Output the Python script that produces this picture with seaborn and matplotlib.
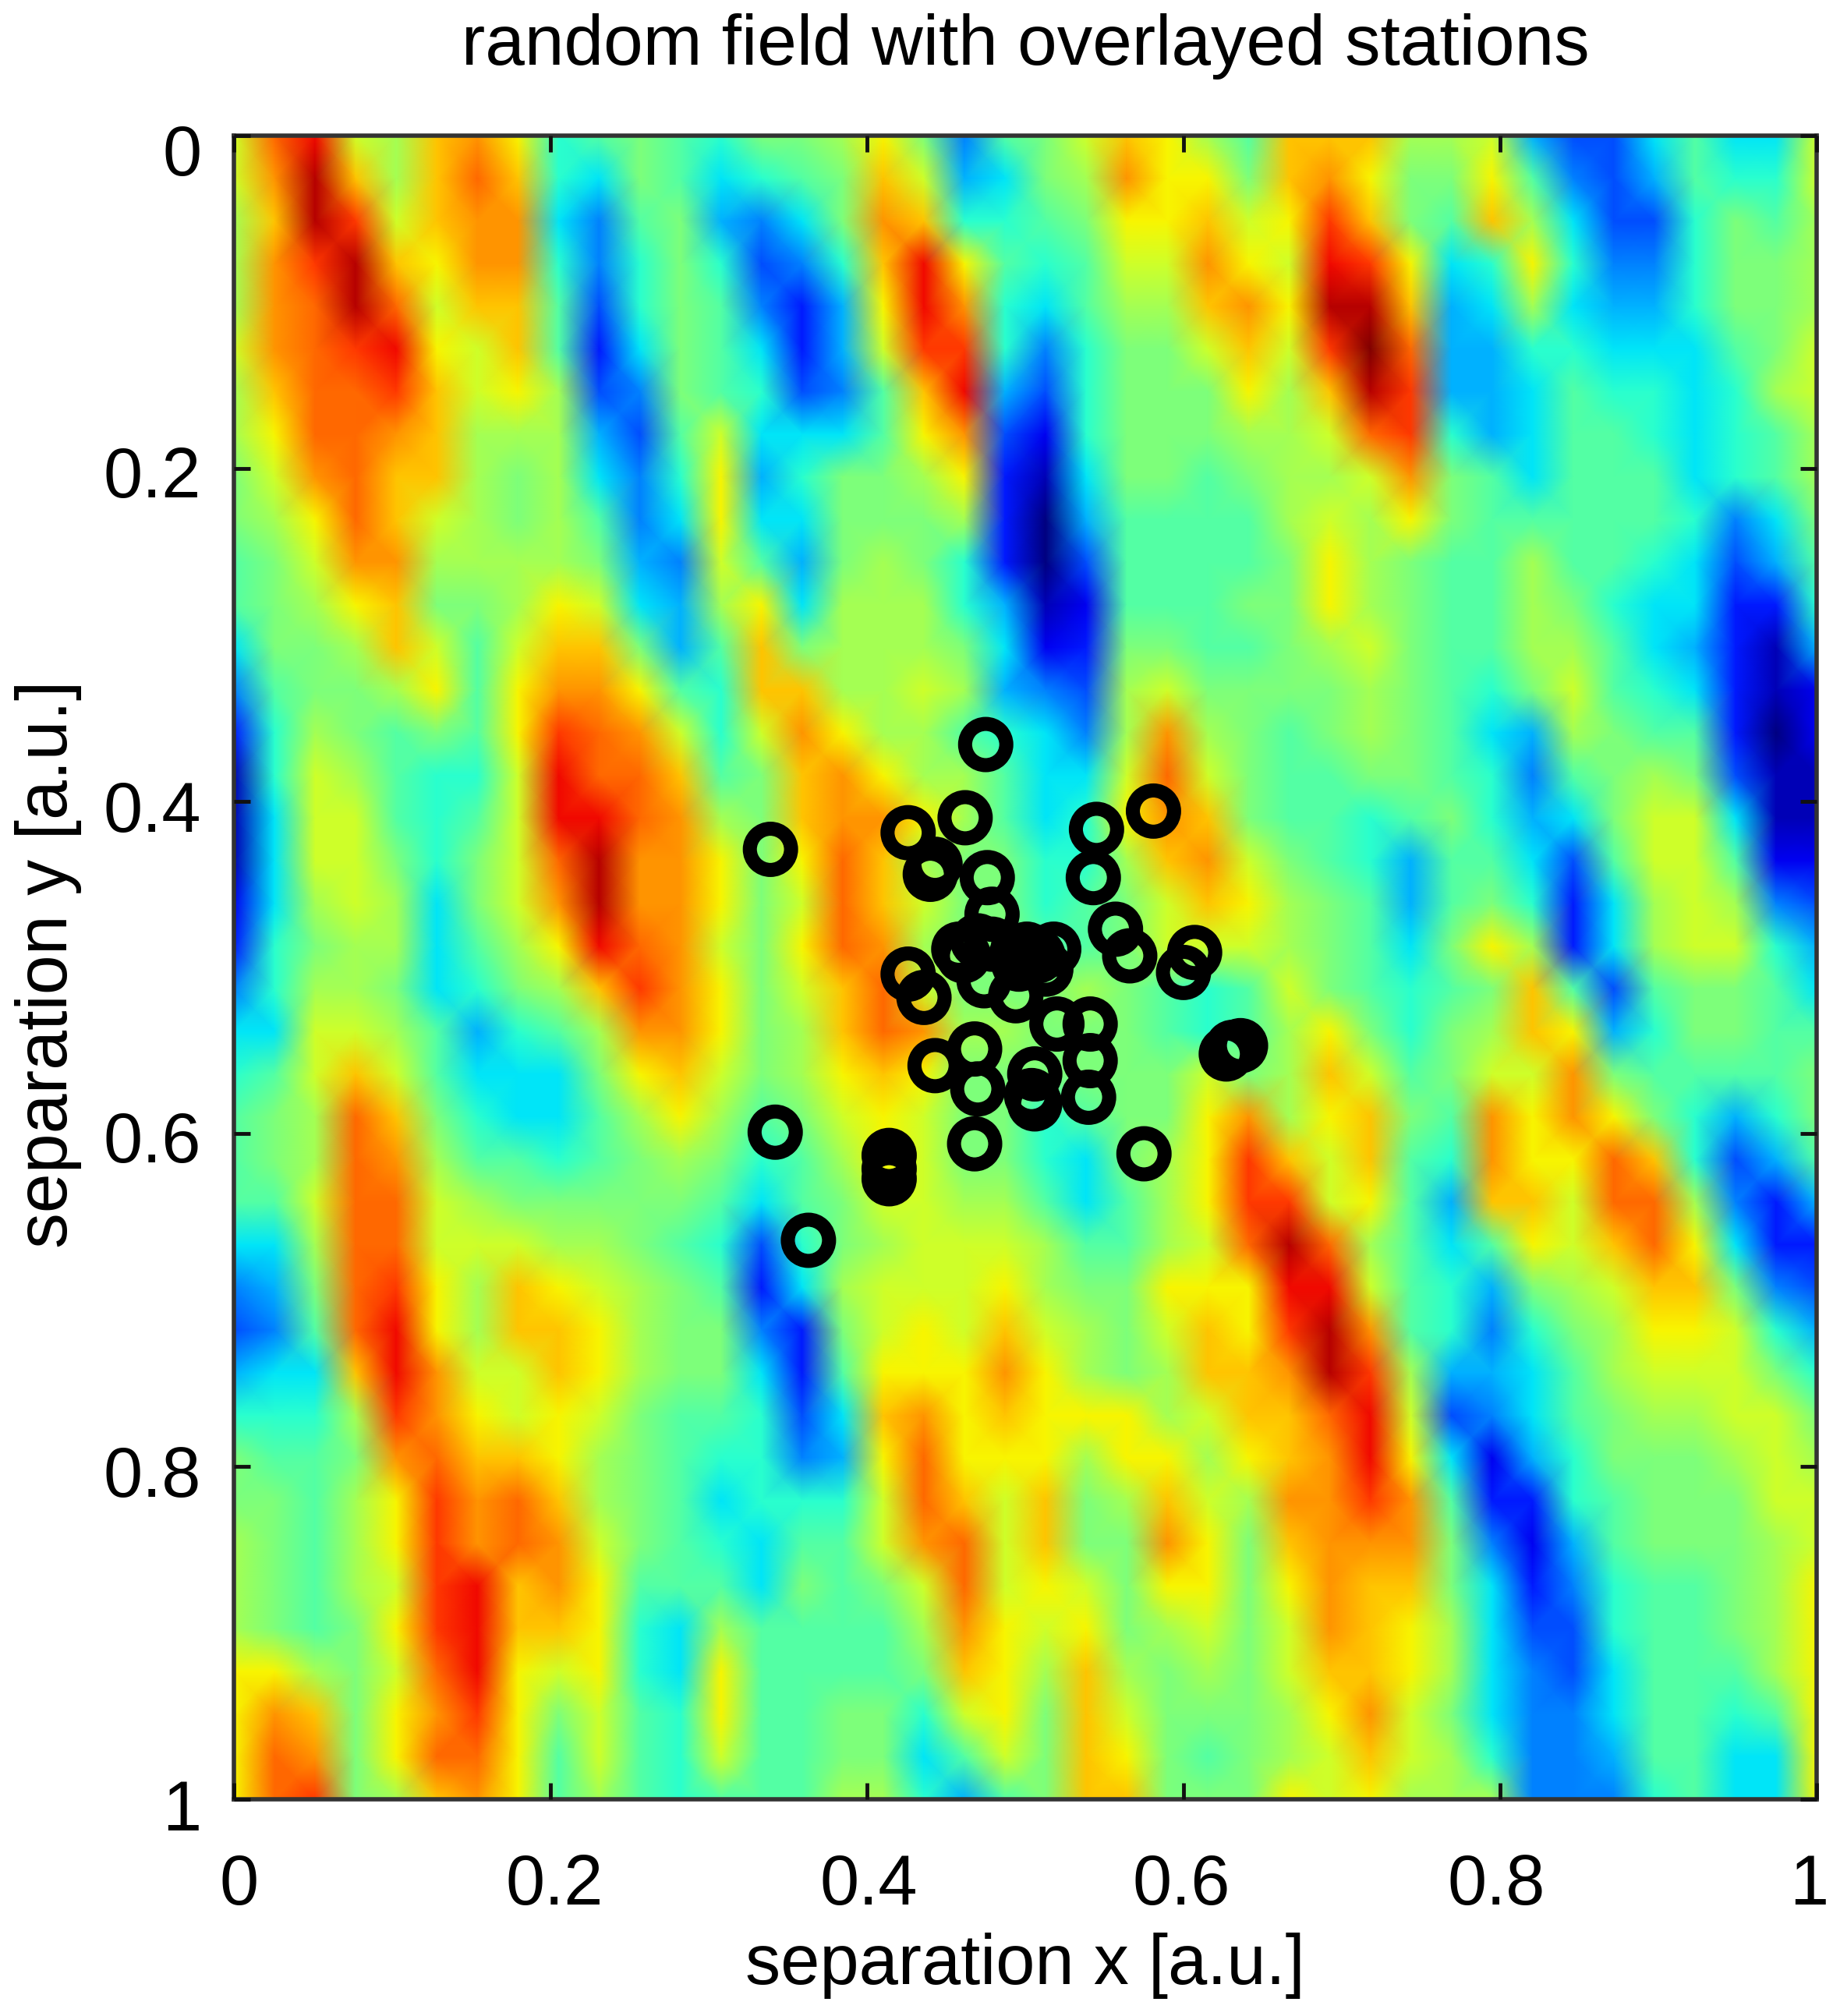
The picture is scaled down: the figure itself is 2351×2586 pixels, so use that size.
import numpy as np
import seaborn as sns
import matplotlib
import matplotlib.pyplot as plt
from matplotlib.transforms import ScaledTranslation
matplotlib.use('Agg')

# field values, on a 0-20 colour scale (40 x 40 cells, four quadrants)
top_left = [
    [12,16,18,12,11,14,15,13,8,9,10,9,8,10,10,11,13,10,5,9],
    [12,15,19,14,11,14,16,14,8,7,10,9,7,8,9,10,14,12,6,7],
    [11,14,19,17,12,14,15,15,7,5,9,10,6,5,7,10,15,14,8,8],
    [11,15,17,19,14,13,15,15,8,5,8,10,8,4,5,8,14,18,13,9],
    [11,15,16,19,16,12,14,14,9,4,8,10,9,5,3,6,13,18,15,8],
    [12,15,16,17,18,13,12,14,9,3,7,10,9,7,3,6,12,17,17,8],
    [11,14,16,16,17,14,12,13,11,4,5,10,9,8,4,5,9,14,18,6],
    [11,13,16,16,15,14,11,11,11,6,4,9,12,7,7,7,9,13,15,4],
    [10,12,15,16,14,14,11,10,11,7,5,8,13,6,8,10,10,11,13,3],
    [10,11,13,16,14,12,11,10,11,9,5,7,13,7,7,10,10,10,11,3],
    [9,10,12,15,15,11,11,11,11,10,6,5,12,9,6,10,11,10,8,3],
    [9,10,11,13,14,10,10,11,13,12,7,6,11,13,7,11,11,11,8,6],
    [7,10,10,11,14,12,9,12,14,14,10,6,9,14,10,11,11,11,10,7],
    [5,9,10,10,11,13,9,13,15,15,13,9,8,14,14,11,11,12,11,6],
    [3,8,11,10,9,10,9,13,17,16,15,12,8,12,15,13,11,11,9,8],
    [1,8,12,11,9,8,8,12,18,16,16,14,9,10,14,15,13,11,11,9],
    [1,7,12,12,9,8,9,12,18,18,16,15,11,10,14,15,15,13,11,9],
    [1,7,12,12,10,8,10,12,16,19,15,15,13,10,13,16,14,11,10,10],
    [2,7,11,12,11,7,10,12,15,19,15,15,13,10,12,16,14,12,10,10],
    [3,8,10,11,11,7,9,11,13,18,16,15,12,10,13,16,15,11,10,10],
]
top_right = [
    [10,12,14,13,11,9,14,14,14,11,11,12,6,4,4,7,9,7,7,12],
    [10,11,15,13,13,10,14,15,13,10,10,13,9,5,4,6,9,8,8,12],
    [9,10,13,13,14,12,13,17,14,10,9,14,11,7,4,4,8,10,9,11],
    [8,9,12,12,15,13,12,18,17,13,7,8,13,8,5,5,8,10,10,11],
    [7,9,11,11,14,15,13,19,19,14,6,7,11,7,6,6,8,10,10,11],
    [5,8,10,10,12,14,12,17,20,16,6,6,8,8,7,7,7,9,10,12],
    [4,8,10,10,10,13,11,14,19,17,6,6,7,9,8,8,7,8,11,12],
    [2,8,10,10,10,11,11,12,16,17,8,6,7,9,9,8,7,8,9,11],
    [1,7,10,10,9,10,11,11,12,15,10,9,7,9,9,9,7,8,9,11],
    [0,6,9,9,9,9,11,12,11,13,10,9,9,9,9,9,8,5,7,10],
    [0,4,9,9,9,9,10,13,11,10,9,9,11,9,9,8,7,4,6,9],
    [1,2,9,9,9,10,10,13,11,10,9,9,11,10,8,7,7,3,3,8],
    [2,3,10,10,9,9,10,11,12,10,9,9,11,11,9,7,6,3,1,6],
    [5,4,11,12,10,10,10,10,11,10,9,8,10,12,9,8,7,3,1,2],
    [7,5,11,15,11,10,9,10,11,10,9,7,6,11,10,9,9,3,0,2],
    [7,7,12,16,12,10,9,9,10,10,9,8,5,9,10,11,10,4,1,1],
    [7,8,13,15,14,10,9,9,8,9,10,8,6,7,10,12,12,7,1,1],
    [8,8,11,14,15,12,10,9,8,6,9,9,7,4,9,12,12,9,2,2],
    [8,9,10,12,14,13,11,10,9,6,9,10,8,3,7,11,12,11,5,4],
    [9,9,10,12,12,12,11,10,9,7,10,13,11,3,7,11,12,12,8,6],
]
bottom_left = [
    [5,8,11,11,10,7,8,10,11,14,17,15,13,10,12,14,16,12,10,10],
    [7,7,12,12,11,9,6,8,9,11,15,15,13,10,11,14,16,15,11,11],
    [8,9,12,14,12,9,7,7,7,10,13,14,12,10,11,13,14,13,10,10],
    [9,10,11,16,14,10,8,7,7,9,11,13,11,9,10,12,13,12,10,10],
    [9,10,11,16,15,11,9,9,8,9,10,11,10,8,9,11,13,12,10,10],
    [9,9,12,16,16,12,11,10,10,10,10,10,9,7,9,10,12,12,11,11],
    [7,7,11,16,16,12,12,12,11,11,10,9,8,4,8,10,11,12,12,12],
    [5,6,10,16,17,13,11,14,13,12,11,10,9,3,7,11,12,12,12,13],
    [4,5,9,16,18,13,11,14,14,13,11,10,10,5,3,10,12,13,12,14],
    [6,7,7,14,18,15,12,12,14,13,11,10,10,7,3,9,13,13,13,15],
    [8,8,8,11,17,15,13,12,13,12,10,9,9,8,4,7,14,15,13,14],
    [10,9,9,10,15,16,14,14,13,11,10,9,8,8,5,6,13,16,13,13],
    [10,10,9,11,13,17,15,16,14,11,10,9,7,8,8,8,12,16,14,12],
    [11,10,9,11,13,17,15,16,15,12,10,9,8,7,9,9,12,15,16,12],
    [11,10,9,11,12,17,18,14,15,13,9,9,9,7,10,9,10,12,16,12],
    [11,10,9,10,13,17,18,14,14,13,8,7,11,9,9,9,9,11,15,13],
    [13,13,11,10,12,16,18,13,12,13,8,7,13,9,9,9,9,10,14,13],
    [13,15,14,10,13,15,17,13,10,12,9,8,13,9,9,10,10,8,12,13],
    [13,16,15,10,13,16,16,13,9,12,9,8,12,9,9,10,10,7,9,12],
    [13,16,17,10,11,14,15,13,9,11,9,8,9,9,9,11,11,8,6,9],
]
bottom_right = [
    [10,11,10,9,8,9,12,10,9,8,9,10,14,9,4,9,10,10,9,7],
    [10,10,10,9,8,9,11,13,10,8,10,11,14,13,6,8,10,10,9,9],
    [10,10,10,10,12,10,11,14,12,9,10,12,12,15,10,9,9,9,9,10],
    [8,9,10,10,13,15,11,13,14,10,9,15,13,15,13,10,8,6,8,10],
    [8,7,10,11,13,17,14,12,14,9,8,15,13,13,16,14,8,4,6,9],
    [9,7,9,11,13,17,17,12,13,9,6,14,14,12,16,16,11,5,3,6],
    [11,9,9,11,12,16,19,16,11,9,7,9,13,12,14,16,13,7,3,3],
    [11,10,10,13,13,13,18,18,12,9,8,6,10,11,12,14,14,10,5,4],
    [12,11,10,12,14,13,17,19,15,9,8,5,8,10,11,13,13,12,8,6],
    [13,11,10,11,14,14,15,19,17,11,6,6,7,9,11,12,12,12,10,8],
    [13,13,13,11,12,14,14,16,18,12,4,5,7,9,10,11,11,12,12,10],
    [13,11,13,13,11,13,14,15,18,13,7,2,6,8,10,10,10,11,12,11],
    [14,10,11,14,12,11,15,15,17,15,9,3,3,8,9,10,10,10,12,12],
    [14,10,10,15,13,10,14,15,15,15,10,5,2,6,9,10,10,10,11,12],
    [13,12,10,13,13,10,13,15,14,14,10,7,3,5,8,9,9,10,11,13],
    [12,13,10,11,12,10,12,15,14,13,11,7,4,4,8,9,9,10,11,13],
    [11,14,11,10,11,10,12,14,14,13,11,7,5,4,7,9,9,9,11,13],
    [10,14,12,10,10,10,11,13,15,12,10,7,5,5,7,9,9,8,9,13],
    [10,14,13,10,9,10,11,12,14,12,11,8,5,5,6,9,9,7,7,13],
    [10,14,14,10,10,10,13,12,13,11,11,11,5,5,5,8,9,7,7,13],
]
field = np.block([[np.array(top_left), np.array(top_right)],
                  [np.array(bottom_left), np.array(bottom_right)]])

# station positions [a.u.]
station_x = [.475,.339,.426,.462,.443,.440,.476,.479,.545,.581,.543,.557,.566,.607,.600,.636,
             .627,.631,.426,.436,.458,.461,.470,.479,.474,.494,.496,.508,.518,.513,.501,.520,
             .541,.541,.540,.443,.468,.470,.468,.506,.504,.506,.575,.342,.414,.414,.414,.363]
station_y = [.366,.429,.419,.410,.438,.444,.446,.468,.417,.406,.446,.477,.493,.491,.503,.547,
             .552,.548,.504,.518,.489,.493,.484,.486,.508,.517,.498,.493,.489,.501,.489,.534,
             .534,.556,.578,.559,.549,.573,.606,.564,.577,.582,.612,.599,.613,.621,.627,.664]

tick_values = [0, 0.2, 0.4, 0.6, 0.8, 1]
tick_labels = ['0', '0.2', '0.4', '0.6', '0.8', '1']

sns.set_theme(style='white')
plt.rcParams['font.family'] = ['Liberation Sans', 'DejaVu Sans']

W, H = 2351, 2586
fig = plt.figure(figsize=(W / 100, H / 100), dpi=100)
ax = fig.add_axes([300 / W, 1 - 2308 / H, 2030 / W, 2134 / H])

n = field.shape[0] - 1
sns.heatmap(field, cmap='jet', vmin=0, vmax=20, cbar=False, shading='gouraud',
            xticklabels=False, yticklabels=False, ax=ax)
sns.scatterplot(x=np.array(station_x) * n, y=np.array(station_y) * n, ax=ax, marker='o', s=1450,
                facecolor='none', edgecolor='black', linewidth=13, zorder=5)
ax.set_xlim(0, n)
ax.set_ylim(n, 0)
ax.set_axisbelow(False)

for s in ax.spines.values():
    s.set_visible(True)
    s.set_linewidth(4)
    s.set_color('#333333')

ax.set_xticks(np.array(tick_values) * n)
ax.set_yticks(np.array(tick_values) * n)
ax.set_xticklabels(tick_labels, fontsize=65, color='black')
ax.set_yticklabels(tick_labels, fontsize=65, color='black')
ax.tick_params(direction='in', length=15, width=3.5, color='#111111', top=True, right=True,
               bottom=True, left=True)
ax.tick_params(axis='x', pad=50)
ax.tick_params(axis='y', pad=30)

# the labels in the picture sit slightly off their ticks
x_shift = [7, 5, 2, -3, -5, -10]
y_shift = [-18, -4, -6, -4, -6, -7]
for lab, dx in zip(ax.get_xticklabels(), x_shift):
    lab.set_transform(lab.get_transform() + ScaledTranslation(dx / 100, 0, fig.dpi_scale_trans))
for lab, dy in zip(ax.get_yticklabels(), y_shift):
    lab.set_transform(lab.get_transform() + ScaledTranslation(0, dy / 100, fig.dpi_scale_trans))

fig.text(1315 / W, 1 - 60 / H, 'random field with overlayed stations', fontsize=65.5, ha='center', va='center', color='black')
fig.text(1315 / W, 1 - 2521 / H, 'separation x [a.u.]', fontsize=65, ha='center', va='center', color='black')
fig.text(62 / W, 1 - 1237 / H, 'separation y [a.u.]', fontsize=66, ha='center', va='center', rotation=90, color='black')

fig.savefig('out.png', dpi=100)
